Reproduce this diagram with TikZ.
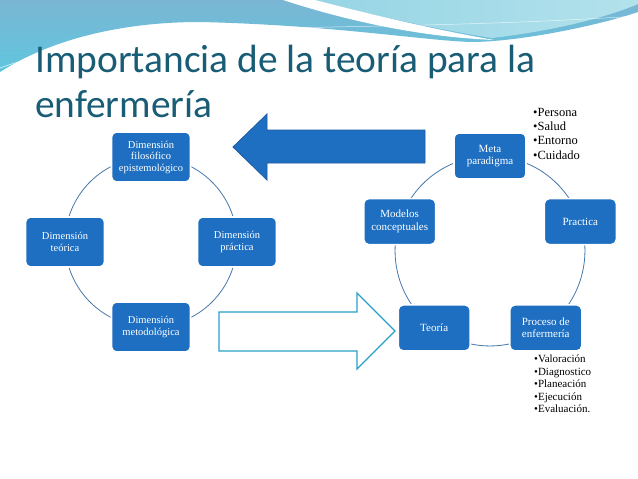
\documentclass[tikz,border=0pt]{standalone}
\usepackage{fontspec}
\setmainfont{Liberation Serif}
\newfontfamily\titlefont{Carlito}
\usetikzlibrary{backgrounds}
\definecolor{boxblue}{RGB}{30,111,193}
\definecolor{arcblue}{RGB}{70,120,170}
\definecolor{titleteal}{RGB}{24,92,118}
\definecolor{arrowcyan}{RGB}{40,160,200}
\definecolor{arrowedge}{RGB}{30,90,160}
\definecolor{hdtop}{RGB}{122,182,212}
\definecolor{hdbot}{RGB}{96,198,222}
\definecolor{hdlightA}{RGB}{150,212,228}
\definecolor{hdlightB}{RGB}{178,226,236}
\begin{document}
\begin{tikzpicture}[x=1pt,y=-1pt,
  dimbox/.style={draw=white, line width=1.6pt, fill=boxblue, rounded corners=5pt,
    text=white, align=center, minimum width=79pt, minimum height=50pt, inner sep=2pt,
    font=\fontsize{10.5}{11.5}\selectfont},
  cycbox/.style={dimbox, minimum width=72pt, minimum height=46pt,
    font=\fontsize{11}{12.5}\selectfont},
  ring/.style={draw=arcblue, line width=0.8pt},
  bul/.style={anchor=base west, inner sep=0pt, font=\fontsize{12.5}{14}\selectfont},
  bulsmall/.style={bul, font=\fontsize{11}{12}\selectfont},
  ttl/.style={anchor=base west, inner sep=0pt, text=titleteal,
    font=\titlefont\fontsize{39.4}{45}\selectfont}]
\useasboundingbox (0,0) rectangle (638,479);
\begin{scope}[on background layer]
\fill[white] (0,0) rectangle (638,479);
% header waves
\shade[top color=hdtop, bottom color=hdbot]
  (0,0) -- (638,0) -- (638,12) .. controls (600,25) and (520,42) .. (470,42)
  .. controls (420,40) and (330,25) .. (200,22) .. controls (120,22) and (50,40) .. (0,72) -- cycle;
\shade[left color=hdlightA, right color=hdlightB]
  (305,0) .. controls (380,16) and (440,30) .. (492,38)
  .. controls (560,30) and (610,16) .. (638,4) -- (638,0) -- cycle;
\fill[white] (283,0) .. controls (320,12) and (400,36) .. (494,40)
  .. controls (420,27) and (350,9) .. (315,0) -- cycle;
\draw[white, line width=0.6pt, opacity=0.8] (0,68) .. controls (80,38) and (250,28) .. (480,44);
\draw[white, line width=0.5pt, opacity=0.7] (120,36) .. controls (250,24) and (420,30) .. (638,16);
\end{scope}
% title
\node[ttl] (t1) at (35,72) {Importancia de la teoría para la};
\node[ttl] (t2) at (35,117) {enfermería};
% arrows
\filldraw[fill=boxblue, draw=arrowedge, line width=0.8pt]
  (233,147) -- (267,114) -- (267,130) -- (425,130) -- (425,163) -- (267,163) -- (267,180) -- cycle;
\filldraw[fill=white, draw=arrowcyan, line width=1.4pt]
  (219,312) -- (357,312) -- (357,293) -- (395,331) -- (357,369) -- (357,351) -- (219,351) -- cycle;
% left cycle
\node[dimbox] (d1) at (151,157) {Dimensión\\filosófico\\epistemológico};
\node[dimbox] (d2) at (237,242) {Dimensión\\práctica};
\node[dimbox] (d3) at (151,327) {Dimensión\\metodológica};
\node[dimbox] (d4) at (65,242) {Dimensión\\teórica};
% right cycle
\node[cycbox] (m1) at (490,156) {Meta\\paradigma};
\node[cycbox] (m2) at (580.3,221.6) {Practica};
\node[cycbox] (m3) at (545.8,327.9) {Proceso de\\enfermería};
\node[cycbox] (m4) at (434.2,327.9) {Teoría};
\node[cycbox] (m5) at (399.7,221.6) {Modelos\\conceptuales};
\begin{scope}[on background layer]
\draw[ring] (d1.center) to[bend left=45] (d2.center);
\draw[ring] (d2.center) to[bend left=45] (d3.center);
\draw[ring] (d3.center) to[bend left=45] (d4.center);
\draw[ring] (d4.center) to[bend left=45] (d1.center);
\draw[ring] (m1.center) to[bend left=36, looseness=0.94] (m2.center);
\draw[ring] (m2.center) to[bend left=36, looseness=0.94] (m3.center);
\draw[ring] (m3.center) to[bend left=36, looseness=0.94] (m4.center);
\draw[ring] (m4.center) to[bend left=36, looseness=0.94] (m5.center);
\draw[ring] (m5.center) to[bend left=36, looseness=0.94] (m1.center);
\end{scope}
% bullets
\node[bul] (p1) at (533,116) {•Persona};
\node[bul] (p2) at (533,130.3) {•Salud};
\node[bul] (p3) at (533,144.6) {•Entorno};
\node[bul] (p4) at (533,159) {•Cuidado};
\node[bulsmall] (v1) at (534,362.5) {•Valoración};
\node[bulsmall] (v2) at (534,375) {•Diagnostico};
\node[bulsmall] (v3) at (534,387.5) {•Planeación};
\node[bulsmall] (v4) at (534,400) {•Ejecución};
\node[bulsmall] (v5) at (534,412.5) {•Evaluación.};
\end{tikzpicture}
\end{document}
